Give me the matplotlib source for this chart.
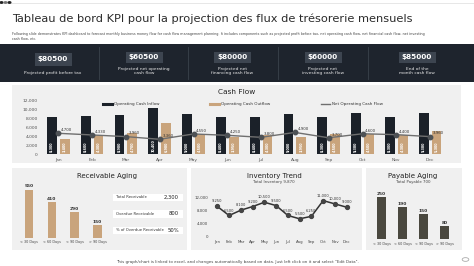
import matplotlib
matplotlib.use("Agg")
import matplotlib.pyplot as plt
from matplotlib.patches import Rectangle, Circle
from matplotlib.lines import Line2D

# ---------------- data ----------------
months = ["Jan", "Feb", "Mar", "Apr", "May", "Jun", "Jul", "Aug", "Sep", "Oct", "Nov", "Dec"]
cash_inflow = [8300, 8600, 8900, 10400, 9000, 8400, 8400, 9000, 8300, 9300, 8300, 9300]
cash_outflow = [3400, 4300, 4700, 6900, 4500, 3950, 4300, 3950, 4500, 4500, 4300, 5300]
net_cash = [4700, 4330, 3960, 3360, 4550, 4250, 3800, 4900, 3700, 4600, 4400, 3960]

kpi_values = ["$80500", "$60500", "$80000", "$60000", "$85000"]
kpi_labels = ["Projected profit before tax", "Projected net operating\ncash flow",
              "Projected net\nfinancing cash flow", "Projected net\ninvesting cash flow",
              "End of the\nmonth cash flow"]

aging_buckets = ["< 30 Days", "< 60 Days", "< 90 Days", "> 90 Days"]
receivable = [550, 410, 290, 150]
receivable_stats = ["Total Receivable", "Overdue Receivable", "% of Overdue Receivable"]
receivable_stat_values = ["2,300", "800", "50%"]

inventory = [9250, 6500, 8100, 9200, 10500, 9500, 6500, 5500, 6250, 11000, 10000, 9000]
payable = [250, 190, 150, 80]

# ---------------- helpers ----------------
W, H = 474, 266
fig = plt.figure(figsize=(W / 100, H / 100), dpi=100)
fig.patch.set_facecolor("white")
renderer = fig.canvas.get_renderer()


def fx(x):
    return x / W


def fy(y):
    return 1 - y / H


def rect(x0, y0, x1, y1, color, ec="none", lw=0, z=-5):
    fig.patches.append(Rectangle((fx(x0), fy(y1)), (x1 - x0) / W, (y1 - y0) / H,
                                 transform=fig.transFigure, facecolor=color,
                                 edgecolor=ec, linewidth=lw, zorder=z))


def txt(x, y, s, size, color="#222222", ha="center", va="center", weight="normal", **kw):
    return fig.text(fx(x), fy(y), s, fontsize=size, color=color, ha=ha, va=va,
                    fontweight=weight, zorder=5, **kw)


def fit(t, width):
    bb = t.get_window_extent(renderer)
    t.set_fontsize(t.get_fontsize() * width / bb.width)


def add_ax(l, t, r, b):
    ax = fig.add_axes([fx(l), fy(b), (r - l) / W, (b - t) / H])
    ax.set_facecolor("none")
    ax.set_zorder(2)
    for s in ax.spines.values():
        s.set_visible(False)
    return ax


# ---------------- header ----------------
fig.lines.append(Line2D([fx(0), fx(474)], [fy(2.5), fy(2.5)], transform=fig.transFigure,
                        color="#dddddd", lw=0.5, zorder=-4))
for i, c in enumerate(["#222222", "#777777", "#222222"]):
    fig.patches.append(Circle((fx(1.5 + i * 4), fy(2.5)), 1.3 / W, transform=fig.transFigure,
                              color=c, zorder=-3))

t = txt(12, 18.5, "Tableau de bord KPI pour la projection des flux de trésorerie mensuels",
        10, color="#2b2b2b", ha="left")
fit(t, 400)
s1 = txt(12, 33.5, "Following slide demonstrates KPI dashboard to forecast monthly business money flow "
         "for cash flow management planning. It includes components such as projected profit before "
         "tax, net operating cash flow, net financial cash flow, net investing", 3, color="#444444", ha="left")
fit(s1, 416)
txt(12, 38.5, "cash flow, etc.", s1.get_fontsize(), color="#444444", ha="left")

# ---------------- KPI band ----------------
rect(0, 43.5, 474, 82, "#1e242d")
kpi_centers = [53, 144, 232.5, 323, 417]
for xsep in [99, 188, 278, 368]:
    fig.lines.append(Line2D([fx(xsep), fx(xsep)], [fy(47), fy(79)], transform=fig.transFigure,
                            color="#3a424c", lw=0.6, zorder=-4))
for i, (cx, v, lab) in enumerate(zip(kpi_centers, kpi_values, kpi_labels)):
    if i == 0:
        y0, y1, ly = 53.3, 65.7, 73.3
    else:
        y0, y1, ly = 51.7, 63.3, 71.2
    rect(cx - 18.5, y0, cx + 18.5, y1, "#3d4550", z=-4)
    txt(cx, (y0 + y1) / 2, v, 5.2, color="white", weight="bold")
    txt(cx, ly, lab, 3.2, color="#e8e8e8", linespacing=1.15)

# ---------------- Cash flow panel ----------------
rect(12, 85, 461, 163, "#f0f0f0")
txt(237, 92, "Cash Flow", 5.3, color="#222222")

ax = add_ax(41.4, 100.7, 447, 154.3)
x = list(range(len(months)))
bw = 0.29
ax.bar([i - 0.19 for i in x], cash_inflow, width=bw, color="#1b2129", zorder=2)
ax.bar([i + 0.19 for i in x], cash_outflow, width=bw, color="#c9a47c", zorder=2)
ax.plot(x, net_cash, color="#6f6f6f", lw=1.0, marker="o", ms=3.2,
        mfc="#4e5256", mec="#4e5256", zorder=3)
for i in x:
    ax.text(i - 0.19, 500, f"{cash_inflow[i]:,}", rotation=90, color="white", fontsize=2.4,
            fontweight="bold", ha="center", va="bottom", zorder=4)
    ax.text(i + 0.19, 500, f"{cash_outflow[i]:,}", rotation=90, color="white", fontsize=2.4,
            fontweight="bold", ha="center", va="bottom", zorder=4)
    ax.text(i + 0.08, net_cash[i] + 250, f"{net_cash[i]:,}", fontsize=2.8, color="#333333",
            ha="left", va="bottom", zorder=4)
ax.set_xlim(-0.5, 11.5)
ax.set_ylim(0, 12000)
ax.set_yticks(range(0, 12001, 2000))
ax.set_yticklabels([f"{v:,}" for v in range(0, 12001, 2000)])
ax.set_xticks(x)
ax.set_xticklabels(months)
ax.tick_params(length=0, labelsize=3.2, colors="#555555", pad=2.5)

# legend (manual)
leg = [("Operating Cash Inflow", "#1b2129", 103, 2.2),
       ("Operating Cash Outflow", "#c9a47c", 210, 2.2),
       ("Net Operating Cash Flow", "#6f6f6f", 321, 1.0)]
for lab, col, lx, lw in leg:
    fig.lines.append(Line2D([fx(lx), fx(lx + 9)], [fy(104.3), fy(104.3)],
                            transform=fig.transFigure, color=col, lw=lw, zorder=5))
    txt(lx + 11, 104.3, lab, 3.0, color="#333333", ha="left")

# ---------------- Receivable aging ----------------
rect(12, 168, 187, 250, "#f0f0f0")
txt(107, 176, "Receivable Aging", 5.0, color="#222222")
axr = add_ax(17.6, 186, 109, 237.7)
axr.bar(range(4), receivable, width=0.38, color="#c9a47c")
for i, v in enumerate(receivable):
    axr.text(i, v + 12, str(v), ha="center", va="bottom", fontsize=3.2, fontweight="bold",
             color="#333333", clip_on=False)
axr.set_xlim(-0.5, 3.5)
axr.set_ylim(0, 590)
axr.set_yticks([])
axr.set_xticks(range(4))
axr.set_xticklabels(aging_buckets)
axr.tick_params(length=0, labelsize=2.4, colors="#444444", pad=2)

for (y0, y1), lab, val in zip([(193.5, 201), (210, 217.5), (226.5, 234)],
                              receivable_stats, receivable_stat_values):
    rect(113, y0, 183, y1, "white", z=-4)
    txt(116, (y0 + y1) / 2, lab, 2.7, color="#333333", ha="left")
    txt(179, (y0 + y1) / 2, val, 3.8, color="#222222", ha="right")

# ---------------- Inventory trend ----------------
rect(191, 168, 362, 250, "#f0f0f0")
txt(274, 176, "Inventory Trend", 5.0, color="#222222")
txt(274, 182.5, "Total Inventory 9,870", 2.8, color="#444444")
axi = add_ax(211.4, 197.3, 352.6, 237)
axi.plot(range(12), inventory, color="#333333", lw=1.1, marker="o", ms=2.8,
         mfc="#444444", mec="#444444")
for i, v in enumerate(inventory):
    axi.text(i, v + 900, f"{v:,}", ha="center", va="bottom", fontsize=2.6, color="#333333",
             clip_on=False)
axi.set_xlim(-0.5, 11.5)
axi.set_ylim(0, 12000)
axi.set_yticks([0, 4000, 8000, 12000])
axi.set_yticklabels(["0", "4,000", "8,000", "12,000"])
axi.set_xticks(range(12))
axi.set_xticklabels(months)
axi.tick_params(length=0, labelsize=2.8, colors="#444444", pad=2.5)

# ---------------- Payable aging ----------------
rect(366, 168, 462, 250, "#f0f0f0")
txt(413, 176, "Payable Aging", 5.0, color="#222222")
txt(413, 182.5, "Total Payable 700", 2.8, color="#444444")
axp = add_ax(371, 197.3, 455, 239)
axp.bar(range(4), payable, width=0.4, color="#4a483f")
for i, v in enumerate(payable):
    axp.text(i, v + 6, str(v), ha="center", va="bottom", fontsize=3.2, fontweight="bold",
             color="#333333", clip_on=False)
axp.set_xlim(-0.5, 3.5)
axp.set_ylim(0, 250)
axp.set_yticks([])
axp.set_xticks(range(4))
axp.set_xticklabels(aging_buckets)
axp.tick_params(length=0, labelsize=2.4, colors="#444444", pad=2)

# ---------------- footer ----------------
txt(237, 262, 'This graph/chart is linked to excel, and changes automatically based on data. '
    'Just left click on it and select "Edit Data".', 2.9, color="#444444")
fig.patches.append(Circle((fx(465.5), fy(259.5)), 3.3 / W, transform=fig.transFigure,
                          facecolor="white", edgecolor="#aaaaaa", lw=0.6, zorder=-3))

fig.savefig("out.png", dpi=100, facecolor="white")
